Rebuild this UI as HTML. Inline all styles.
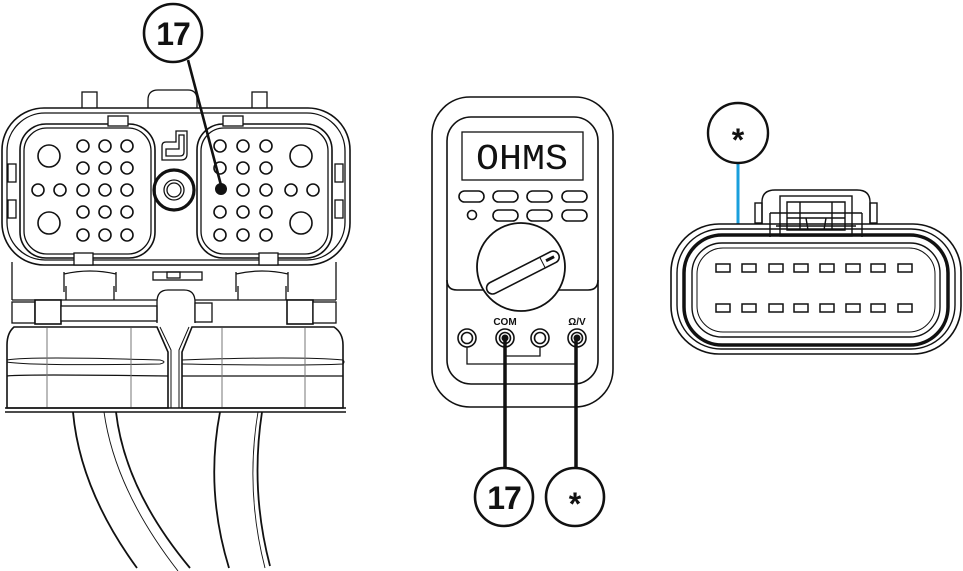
<!DOCTYPE html>
<html><head><meta charset="utf-8"><style>
html,body{margin:0;padding:0;background:#fff;}
svg{display:block;}
text{font-family:"Liberation Sans",Arial,sans-serif;font-weight:bold;}
</style></head><body>
<svg width="963" height="571" viewBox="0 0 963 571" xmlns="http://www.w3.org/2000/svg">
<g fill="none" stroke="#111" stroke-width="1.3">
<rect x="82" y="92" width="15" height="17" fill="#fff"/>
<rect x="252" y="92" width="15" height="17" fill="#fff"/>
<path d="M148 109 V100 Q148 90 158 90 H188 Q197 90 197 100 V109" fill="#fff"/>
<rect x="2" y="108" width="348" height="157" rx="42" fill="#fff" stroke-width="1.6"/>
<rect x="7" y="113" width="338" height="147" rx="38"/>
<rect x="8" y="164" width="8" height="18" fill="#fff"/>
<rect x="8" y="200" width="8" height="18" fill="#fff"/>
<rect x="335" y="164" width="8" height="18" fill="#fff"/>
<rect x="335" y="200" width="8" height="18" fill="#fff"/>
<rect x="20" y="124" width="135" height="134" rx="26" stroke-width="1.6"/>
<rect x="24" y="128" width="127" height="126" rx="23"/>
<rect x="197" y="124" width="135" height="134" rx="26" stroke-width="1.6"/>
<rect x="201" y="128" width="127" height="126" rx="23"/>
<rect x="108" y="116" width="20" height="10" fill="#fff"/>
<rect x="223" y="116" width="20" height="10" fill="#fff"/>
<rect x="74" y="253" width="19" height="12" fill="#fff"/>
<rect x="259" y="253" width="19" height="12" fill="#fff"/>
<g stroke-width="1.6">
<circle cx="49" cy="156" r="11"/><circle cx="49" cy="223" r="11"/>
<circle cx="38" cy="190" r="6"/><circle cx="60" cy="190" r="6"/>
<circle cx="83" cy="146" r="6"/><circle cx="105" cy="146" r="6"/><circle cx="127" cy="146" r="6"/>
<circle cx="83" cy="168" r="6"/><circle cx="105" cy="168" r="6"/><circle cx="127" cy="168" r="6"/>
<circle cx="83" cy="190" r="6"/><circle cx="105" cy="190" r="6"/><circle cx="127" cy="190" r="6"/>
<circle cx="83" cy="212" r="6"/><circle cx="105" cy="212" r="6"/><circle cx="127" cy="212" r="6"/>
<circle cx="83" cy="235" r="6"/><circle cx="105" cy="235" r="6"/><circle cx="127" cy="235" r="6"/>
<circle cx="301" cy="156" r="11"/><circle cx="301" cy="223" r="11"/>
<circle cx="291" cy="190" r="6"/><circle cx="313" cy="190" r="6"/>
<circle cx="220" cy="146" r="6"/><circle cx="243" cy="146" r="6"/><circle cx="266" cy="146" r="6"/>
<circle cx="220" cy="168" r="6"/><circle cx="243" cy="168" r="6"/><circle cx="266" cy="168" r="6"/>
<circle cx="243" cy="190" r="6"/><circle cx="266" cy="190" r="6"/>
<circle cx="220" cy="212" r="6"/><circle cx="243" cy="212" r="6"/><circle cx="266" cy="212" r="6"/>
<circle cx="220" cy="235" r="6"/><circle cx="243" cy="235" r="6"/><circle cx="266" cy="235" r="6"/>
</g>
<path d="M176 131 H187 V154 Q187 160 181 160 H162 V146 Q162 142 166 142 H176 Z"/>
<path d="M179 135 H184 V152 Q184 156 180 156 H166 V149 H179 Z"/>
<circle cx="174" cy="190" r="20" stroke-width="3.2"/>
<circle cx="174" cy="190" r="10"/>
<circle cx="174" cy="190" r="7"/>
<path d="M12 262 V300 M336 262 V300"/>
<path d="M12 300 H157 M195 300 H336"/>
<path d="M64 272 V292 M116 272 V292 M236 272 V292 M288 272 V292 M64 274 Q90 268 116 274 M236 274 Q262 268 288 274"/>
<path d="M66 286 V300 M114 286 V300 M238 286 V300 M286 286 V300"/>
<rect x="153" y="272" width="49" height="8"/>
<rect x="167" y="272" width="13" height="6"/>
<rect x="12" y="302" width="23" height="21" fill="#fff"/>
<rect x="35" y="300" width="26" height="24" fill="#fff" stroke-width="1.6"/>
<rect x="61" y="306" width="96" height="15" fill="#fff"/>
<path d="M157 323 V302 Q157 290 168 290 H184 Q195 290 195 302 V323"/>
<rect x="195" y="303" width="17" height="19" fill="#fff"/>
<rect x="287" y="300" width="26" height="24" fill="#fff" stroke-width="1.6"/>
<rect x="313" y="302" width="23" height="21" fill="#fff"/>
<path d="M14 327 Q7 333 7 345 V408 H168 V352 L157 327 Z" fill="#fff" stroke-width="1.6"/>
<path d="M334 327 Q343 333 343 345 V408 H182 V352 L192 327 Z" fill="#fff" stroke-width="1.6"/>
<path d="M160 327 L171 350 V408 M189 327 L179 350 V408" stroke-width="1"/>
<path d="M7 360 Q30 356 160 360 Q168 362 160 364 Q30 366 7 362" stroke-width="1"/>
<path d="M182 360 Q300 356 343 360 Q345 362 343 364 Q300 366 182 364" stroke-width="1"/>
<path d="M7 376 Q20 374 168 376 M182 376 H343" stroke-width="1.2"/>
<path d="M47 328 V408 M131 328 V408 M222 328 V408 M305 328 V408" stroke="#777" stroke-width="1"/>
<path d="M5 408 H346 M5 412 H346" stroke-width="1.6"/>
<path d="M73 412 Q80 490 137 568" stroke-width="1.8"/>
<path d="M104 412 Q115 490 178 571" stroke-width="0.9"/>
<path d="M116 412 Q125 490 190 568" stroke-width="1.8"/>
<path d="M220 412 Q205 490 229 568" stroke-width="1.8"/>
<path d="M258 412 Q245 490 265 568" stroke-width="0.9"/>
<path d="M262 412 Q250 490 270 566" stroke-width="1.8"/>
</g>
<line x1="188" y1="60" x2="222" y2="189" stroke="#111" stroke-width="2.6"/>
<circle cx="221" cy="189" r="6" fill="#111"/>
<circle cx="173" cy="33" r="29" fill="#fff" stroke="#111" stroke-width="2.6"/>
<text x="173" y="45" font-size="32" text-anchor="middle" fill="#111" letter-spacing="-1">17</text>

<g fill="none" stroke="#111" stroke-width="1.6">
<rect x="432" y="97" width="181" height="310" rx="38"/>
<rect x="447" y="117" width="151" height="267" rx="24"/>
<path d="M447 280 Q447 290 457 290 H588 Q598 290 598 280"/>
<rect x="462" y="132" width="121" height="48" stroke-width="1.3"/>
<g stroke-width="1.6">
<rect x="459" y="191" width="25" height="11" rx="5.5"/><rect x="493" y="191" width="25" height="11" rx="5.5"/>
<rect x="527" y="191" width="25" height="11" rx="5.5"/><rect x="562" y="191" width="25" height="11" rx="5.5"/>
<circle cx="472" cy="215" r="4.5"/>
<rect x="493" y="210" width="25" height="11" rx="5.5"/>
<rect x="527" y="210" width="25" height="11" rx="5.5"/><rect x="562" y="210" width="25" height="11" rx="5.5"/>
</g>
<circle cx="521" cy="267" r="44" fill="#fff" stroke-width="1.8"/>
<g transform="rotate(-27 522 273)">
<rect x="483" y="267" width="80" height="12" rx="6" fill="#fff"/>
<line x1="549" y1="273" x2="558" y2="273" stroke-width="3"/>
<line x1="545" y1="267" x2="545" y2="279" stroke-width="1"/>
</g>
<circle cx="467" cy="338" r="9"/><circle cx="467" cy="338" r="5.5"/>
<circle cx="505" cy="338" r="9"/><circle cx="505" cy="338" r="5.5"/>
<circle cx="540" cy="338" r="9"/><circle cx="540" cy="338" r="5.5"/>
<circle cx="577" cy="338" r="9"/><circle cx="577" cy="338" r="5.5"/>
<path d="M467 347 V364 H577 M540 347 V356 H505" stroke-width="1.3"/>
</g>
<text x="505" y="325" font-size="10" text-anchor="middle" fill="#111" font-weight="normal">COM</text>
<text x="577" y="325" font-size="10" text-anchor="middle" fill="#111">Ω/V</text>
<text x="522" y="169" font-size="36" text-anchor="middle" fill="#111" textLength="92" lengthAdjust="spacingAndGlyphs" style="font-family:'Liberation Mono',monospace;font-weight:normal">OHMS</text>
<circle cx="505" cy="338" r="3.5" fill="#111"/><circle cx="577" cy="338" r="3.5" fill="#111"/>
<line x1="505" y1="338" x2="505" y2="467" stroke="#111" stroke-width="3.5"/>
<line x1="576" y1="338" x2="576" y2="467" stroke="#111" stroke-width="3.5"/>
<circle cx="504" cy="497" r="29" fill="#fff" stroke="#111" stroke-width="2.6"/>
<text x="504" y="509" font-size="32" text-anchor="middle" fill="#111" letter-spacing="-1">17</text>
<circle cx="575" cy="497" r="29" fill="#fff" stroke="#111" stroke-width="2.6"/>
<text x="575" y="515" font-size="32" text-anchor="middle" fill="#111">*</text>

<line x1="738" y1="162" x2="738" y2="224" stroke="#1a9fdc" stroke-width="3"/>
<circle cx="738" cy="133" r="30" fill="#fff" stroke="#111" stroke-width="2.4"/>
<text x="738" y="151" font-size="32" text-anchor="middle" fill="#111">*</text>
<g fill="none" stroke="#111" stroke-width="1.4">
<path d="M762 224 V202 Q762 190 775 190 H857 Q870 190 870 202 V224"/>
<rect x="755" y="203" width="7" height="20"/><rect x="870" y="203" width="7" height="20"/>
<rect x="780" y="196" width="72" height="40"/>
<path d="M770 213 H862 M770 213 V237 M862 213 V237 M787 202 H845 V230 H787 Z M800 202 V230 M832 202 V230 M787 218 H845 M806 218 L808 230 M826 218 L824 230 M776 226 H856"/>
<rect x="671" y="224" width="290" height="130" rx="48" stroke-width="1.6"/>
<rect x="677" y="229" width="278" height="120" rx="44"/>
<rect x="684" y="235" width="264" height="110" rx="38" stroke-width="3.5"/>
<rect x="692" y="243" width="248" height="94" rx="30"/>
<rect x="697" y="248" width="238" height="84" rx="26" stroke-width="1"/>
<g stroke-width="1.5">
<rect x="716" y="264" width="14" height="8"/><rect x="742" y="264" width="14" height="8"/>
<rect x="769" y="264" width="14" height="8"/><rect x="794" y="264" width="14" height="8"/>
<rect x="820" y="264" width="14" height="8"/><rect x="846" y="264" width="14" height="8"/>
<rect x="871" y="264" width="14" height="8"/><rect x="898" y="264" width="14" height="8"/>
<rect x="716" y="304" width="14" height="8"/><rect x="742" y="304" width="14" height="8"/>
<rect x="769" y="304" width="14" height="8"/><rect x="794" y="304" width="14" height="8"/>
<rect x="820" y="304" width="14" height="8"/><rect x="846" y="304" width="14" height="8"/>
<rect x="871" y="304" width="14" height="8"/><rect x="898" y="304" width="14" height="8"/>
</g>
</g>
</svg>
</body></html>
